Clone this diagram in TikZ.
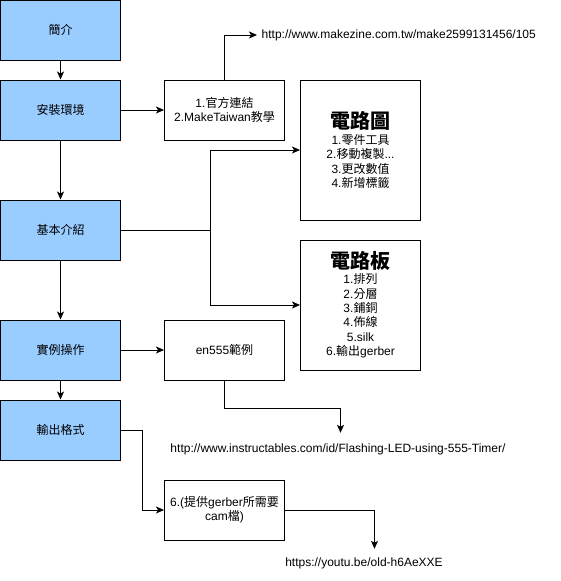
\documentclass[tikz,border=0pt]{standalone}
\usepackage{fontspec}
\setmainfont{Liberation Sans}
\newfontfamily\cjk{Noto Sans CJK TC}
\usetikzlibrary{arrows.meta}
\newcommand{\zh}[1]{{\cjk #1}}
\definecolor{boxblue}{HTML}{99CCFF}
\begin{document}
\begin{tikzpicture}[x=1pt,y=-1pt,
  every node/.style={font=\fontsize{12}{14.4}\selectfont},
  box/.style={draw=black, line width=1pt, minimum width=120pt, minimum height=60pt, align=center, inner sep=2pt},
  bluebox/.style={box, fill=boxblue},
  arr/.style={draw=black, line width=1pt, -{Stealth[length=8pt,width=7pt,inset=2pt]}},
  ln/.style={draw=black, line width=1pt},
  url/.style={inner sep=0pt}
]
\useasboundingbox (0,0) rectangle (561,581);
% left column
\node[bluebox] (jj) at (60.5,30) {\zh{簡介}};
\node[bluebox] (az) at (60.5,110) {\zh{安裝環境}};
\node[bluebox] (jb) at (60.5,230) {\zh{基本介紹}};
\node[bluebox] (sl) at (60.5,350) {\zh{實例操作}};
\node[bluebox] (sc) at (60.5,430) {\zh{輸出格式}};
% right boxes
\node[box] (gf) at (224.5,110) {1.\zh{官方連結}\\2.MakeTaiwan\zh{教學}};
\node[box, minimum height=140pt] (ckt) at (360.5,150)
  {{\fontsize{20}{24}\selectfont\bfseries\cjk 電路圖}\\[1.5pt]
   1.\zh{零件工具}\\2.\zh{移動複製}...\\3.\zh{更改數值}\\4.\zh{新增標籤}};
\node[box, minimum height=130pt] (pcb) at (360.5,305)
  {{\fontsize{20}{24}\selectfont\bfseries\cjk 電路板}\\[0.5pt]
   1.\zh{排列}\\2.\zh{分層}\\3.\zh{鋪銅}\\4.\zh{佈線}\\5.silk\\6.\zh{輸出}gerber};
\node[box] (en) at (224.5,350) {en555\zh{範例}};
\node[box] (cam) at (224.5,510) {6.(\zh{提供}gerber\zh{所需要}\\cam\zh{檔})};
% url texts
\node[anchor=west, inner xsep=4.5pt, inner ysep=0pt] (mk) at (257,35) {http://www.makezine.com.tw/make2599131456/105};
\node[url, minimum height=32pt] (ins) at (338,449) {http://www.instructables.com/id/Flashing-LED-using-555-Timer/};
\node[url, minimum height=28pt] (yt) at (364,563) {https://youtu.be/old-h6AeXXE};
% junctions
\coordinate (j) at (210.5,230);
\coordinate (k) at (142.5,430);
\coordinate (c1) at (224.5,408.5);
\coordinate (c2) at (340.5,408.5);
\coordinate (c3) at (374.5,510);
% connectors
\draw[arr] (jj.south) -- (az.north);
\draw[arr] (az.south) -- (jb.north);
\draw[arr] (jb.south) -- (sl.north);
\draw[arr] (sl.south) -- (sc.north);
\draw[arr] (az.east) -- (gf.west);
\draw[arr] (gf.north) |- (mk.west);
\draw[ln] (jb.east) -- (j);
\draw[arr] (j) |- (ckt.west);
\draw[arr] (j) |- (pcb.west);
\draw[arr] (sl.east) -- (en.west);
\draw[arr] (en.south) -- (c1) -- (c2) -- (c2 |- ins.north);
\draw[arr] (sc.east) -- (k) |- (cam.west);
\draw[arr] (cam.east) -- (c3) -- (c3 |- yt.north);
\end{tikzpicture}
\end{document}
